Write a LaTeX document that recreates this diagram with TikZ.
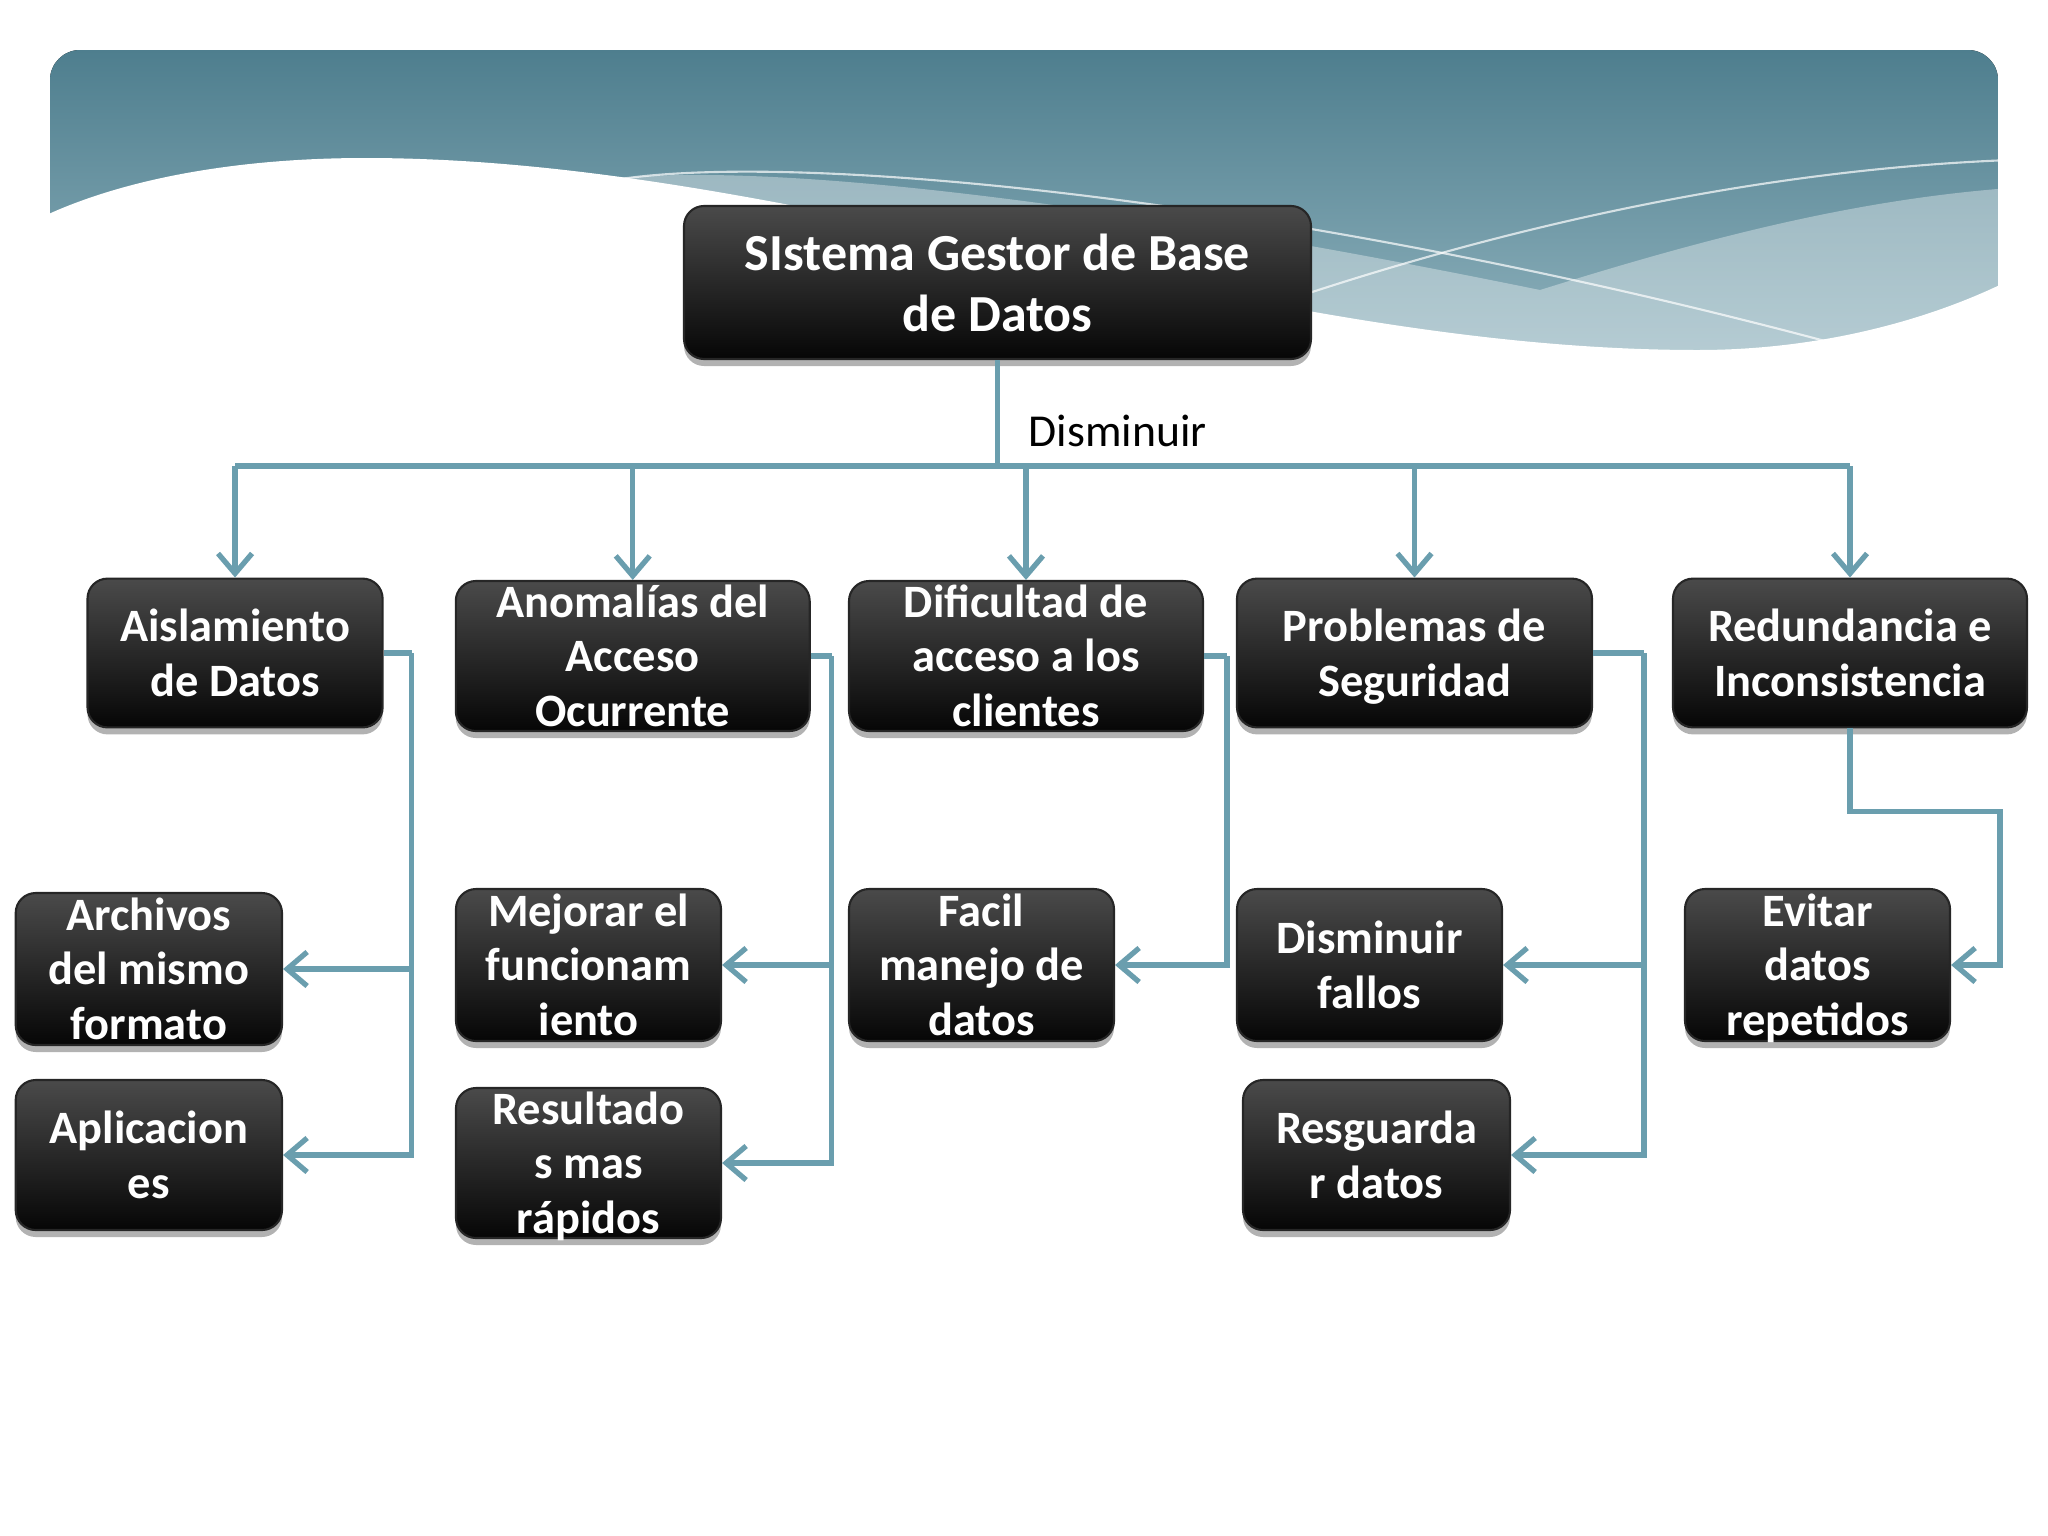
\documentclass[tikz,border=0pt]{standalone}
\usepackage{fontspec}
\setmainfont{Carlito}
\usetikzlibrary{arrows.meta,shadows}
\definecolor{bandtop}{HTML}{4E7E8E}
\definecolor{bandbot}{HTML}{9CBCC6}
\definecolor{conn}{HTML}{6A9EAE}
\definecolor{boxtop}{HTML}{4A4A4A}
\definecolor{boxmid}{HTML}{1F1F1F}
\definecolor{boxbot}{HTML}{060606}
\tikzset{
  dbox/.style={rounded corners=0.2cm, top color=boxtop, middle color=boxmid, bottom color=boxbot,
    draw=black!85, line width=0.6pt, inner sep=0pt,
    drop shadow={shadow xshift=0pt, shadow yshift=-0.07cm, opacity=0.3, fill=black}},
  btxt/.style={text=white, align=center, inner sep=0pt, yshift=-1.4pt, font=\bfseries\fontsize{13.2}{15.6}\selectfont},
  ttxt/.style={text=white, align=center, inner sep=0pt, yshift=-1.8pt, font=\bfseries\fontsize{14.8}{17.5}\selectfont},
  conn/.style={draw=conn, line width=1.5pt},
  arr/.style={conn, -{Straight Barb[length=0.2cm,width=0.34cm]}},
  lbl/.style={font=\fontsize{13}{15}\selectfont, anchor=west, inner sep=0pt}
}
\newcommand\mybox[7][btxt]{%
  \node[dbox, minimum width={(#5-#3)*0.01cm}, minimum height={(#6-#4)*0.01cm}] (#2) at ({(#3+#5)/2},{(#4+#6)/2}) {};
  \node[#1] (#2t) at (#2.center) {\strut #7\strut};}
\begin{document}
\begin{tikzpicture}[x=0.01cm,y=-0.01cm]
\useasboundingbox (0,0) rectangle (2048,1536);
% header band
\begin{scope}
  \clip[rounded corners=0.3cm] (50,420) -- (50,50) -- (1998,50) -- (1998,420) -- cycle;
  \fill[top color=bandtop, bottom color=bandbot] (50,50) rectangle (1998,420);
  \fill[white, opacity=0.35] (600,180) .. controls (760,160) and (1100,200) .. (1540,290)
     .. controls (1700,240) and (1850,200) .. (2010,188) -- (2010,430) -- (600,430) -- cycle;
  \draw[white, opacity=0.7, line width=0.6pt] (614,180) .. controls (800,150) and (1300,200) .. (1840,345);
  \draw[white, opacity=0.7, line width=0.6pt] (1300,296) .. controls (1500,230) and (1750,170) .. (2010,160);
\end{scope}
\fill[white] (30,229) -- (40,218) .. controls (130,175) and (250,158) .. (365,158)
   .. controls (800,158) and (1250,350) .. (1698,350)
   .. controls (1820,350) and (1930,320) .. (2010,280) -- (2020,276) -- (2020,440) -- (30,440) -- cycle;
% nodes
\mybox[ttxt]{top}{684}{206}{1311}{359}{SIstema Gestor de Base\\de Datos}
\mybox{a1}{87.5}{578.6}{382.6}{727.4}{Aislamiento\\de Datos}
\mybox{a2}{455.8}{581}{809.7}{731}{Anomalías del\\Acceso\\Ocurrente}
\mybox{a3}{849}{581}{1203}{731}{Dificultad de\\acceso a los\\clientes}
\mybox{a4}{1237}{578.6}{1592}{727.4}{Problemas de\\Seguridad}
\mybox{a5}{1673}{578.6}{2027}{727.4}{Redundancia e\\Inconsistencia}
\mybox{b11}{15.7}{893}{282}{1045}{Archivos\\del mismo\\formato}
\mybox{b12}{15.7}{1080}{282}{1230}{Aplicacion\\es}
\mybox{b21}{456}{889}{721}{1041}{Mejorar el\\funcionam\\iento}
\mybox{b22}{456}{1088}{721}{1238}{Resultado\\s mas\\rápidos}
\mybox{b31}{849}{889}{1114}{1041}{Facil\\manejo de\\datos}
\mybox{b41}{1237}{889}{1502}{1041}{Disminuir\\fallos}
\mybox{b42}{1243}{1080}{1510}{1230}{Resguarda\\r datos}
\mybox{b51}{1685}{889}{1950}{1041}{Evitar\\datos\\repetidos}
% label
\node[lbl] (dis) at (1028,431) {Disminuir};
% connectors
\coordinate (bus) at (999,466);
\draw[conn] (top.south) -- (top.south |- bus);
\draw[conn] (bus -| a1.north) -- (bus -| a5.north);
\foreach \n in {a1,a2,a3,a4,a5} \draw[arr] (bus -| \n.north) -- (\n.north);
\draw[conn] (a1.east) -- ++(28,0) coordinate (v1);
\draw[arr] (v1) |- (b11.east);
\draw[arr] (v1) |- (b12.east);
\draw[conn] (a2.east) -- ++(21,0) coordinate (v2);
\draw[arr] (v2) |- (b21.east);
\draw[arr] (v2) |- (b22.east);
\draw[conn] (a3.east) -- ++(23,0) coordinate (v3);
\draw[arr] (v3) |- (b31.east);
\draw[conn] (a4.east) -- ++(51,0) coordinate (v4);
\draw[arr] (v4) |- (b41.east);
\draw[arr] (v4) |- (b42.east);
\draw[arr] (a5.south) -- ++(0,83) -- ++(150,0) |- (b51.east);
\end{tikzpicture}
\end{document}
